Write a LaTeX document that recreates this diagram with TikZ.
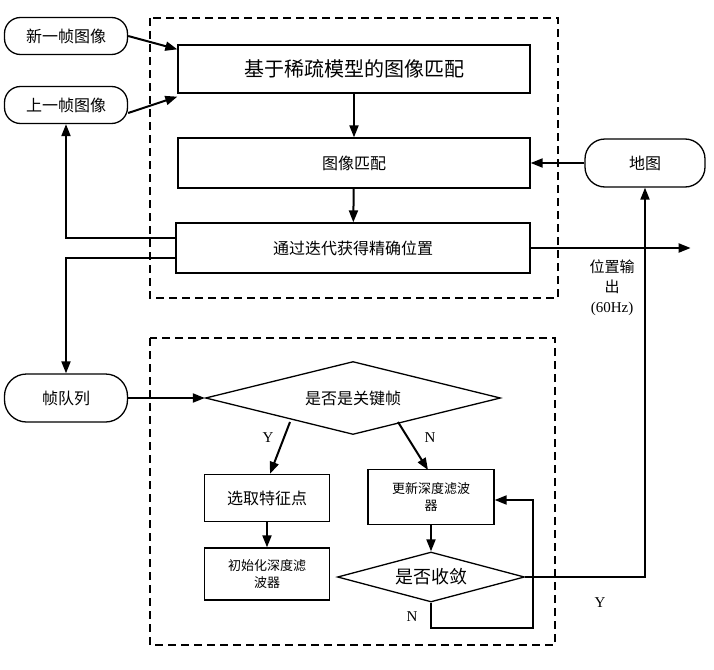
\documentclass[tikz,border=0pt]{standalone}
\usepackage{fontspec}
\setmainfont{Liberation Serif}
\newfontfamily\cjk{Noto Sans CJK SC}
\usetikzlibrary{shapes.geometric,arrows.meta}
\begin{document}
\begin{tikzpicture}[x=1pt,y=-1pt,font=\cjk,
  box/.style={draw,line width=1.3pt,minimum width=#1},
  term/.style={draw,line width=1.3pt,rounded corners=16pt,minimum width=123pt,minimum height=37pt,font=\cjk\fontsize{16}{18}\selectfont},
  dia/.style={draw,line width=1.3pt,diamond,aspect=4,inner sep=0pt},
  arr/.style={line width=2pt,-{Triangle[length=12pt,width=9pt]}},
  ln/.style={line width=2pt},
  dbox/.style={draw,line width=1.3pt,dash pattern=on 8pt off 5pt}]
\useasboundingbox (0,0) rectangle (714,669);
\draw[dbox] (150,18) rectangle (558,298);
\draw[dbox] (150,338) rectangle (555,645);
\node[box=352pt,minimum height=48pt,font=\cjk\fontsize{20}{22}\selectfont] (b1) at (354,69) {基于稀疏模型的图像匹配};
\node[box=352pt,minimum height=50pt,font=\cjk\fontsize{16}{18}\selectfont] (b2) at (354,163) {图像匹配};
\node[box=354pt,minimum height=50pt,font=\cjk\fontsize{16}{18}\selectfont] (b3) at (353,248) {通过迭代获得精确位置};
\node[term] (n1) at (66,36) {新一帧图像};
\node[term] (n2) at (66,105) {上一帧图像};
\node[term,minimum width=120pt,minimum height=48pt,rounded corners=20pt] (map) at (645,163) {地图};
\node[term,minimum height=48pt,rounded corners=22pt] (q) at (66,398) {帧队列};
\node[dia,minimum width=295pt,minimum height=73pt,font=\cjk\fontsize{16}{18}\selectfont] (d1) at (353,398) {是否是关键帧};
\node[box=125pt,minimum height=47pt,font=\cjk\fontsize{16}{18}\selectfont] (s1) at (267,498) {选取特征点};
\node[box=125pt,minimum height=52pt,align=center,font=\cjk\fontsize{13}{17}\selectfont] (s2) at (267,574) {初始化深度滤\\波器};
\node[box=126pt,minimum height=55pt,align=center,font=\cjk\fontsize{13}{17}\selectfont] (u) at (431,497) {更新深度滤波\\器};
\node[dia,minimum width=187pt,minimum height=50pt,aspect=3.7,font=\cjk\fontsize{18}{20}\selectfont] (d2) at (431,577) {是否收敛};
\draw[arr] (n1.east) -- ([yshift=-5pt]b1.north west);
\draw[arr] ([yshift=-8pt]n2.east) -- ([yshift=-3pt]b1.south west);
\draw[arr] (b1) -- (b2);
\draw[arr] (b2) -- (b3);
\draw[arr] (map) -- (b2);
\draw[arr] ([yshift=10pt]b3.west) -| (n2.south);
\draw[arr] ([yshift=-10pt]b3.west) -| (q.north);
\draw[arr] (b3.east) -- ++(160,0) coordinate (o);
\node[align=center,font=\cjk\fontsize{15}{20}\selectfont] (lo) at (612,288) {位置输\\出\\\rmfamily(60Hz)};
\draw[arr] (q) -- (d1.west);
\draw[arr] (290,422) -- (s1.north -| 270,0);
\node[font=\rmfamily\fontsize{15}{16}\selectfont] (ly) at (268,438) {Y};
\draw[arr] (398,422) -- (428,470);
\node[font=\rmfamily\fontsize{15}{16}\selectfont] (ln) at (430,438) {N};
\draw[arr] (s1) -- (s2);
\draw[arr] (u) -- (d2);
\draw[ln,-{Triangle[length=12pt,width=9pt]}] (d2.south) -- (431,628) -- (533,628) -- (533,500) -- (u.east |- 0,500);
\node[font=\rmfamily\fontsize{15}{16}\selectfont] (ln2) at (412,617) {N};
\draw[arr] (d2.east) -| (map.south);
\node[font=\rmfamily\fontsize{15}{16}\selectfont] (ly2) at (600,603) {Y};
\end{tikzpicture}
\end{document}
